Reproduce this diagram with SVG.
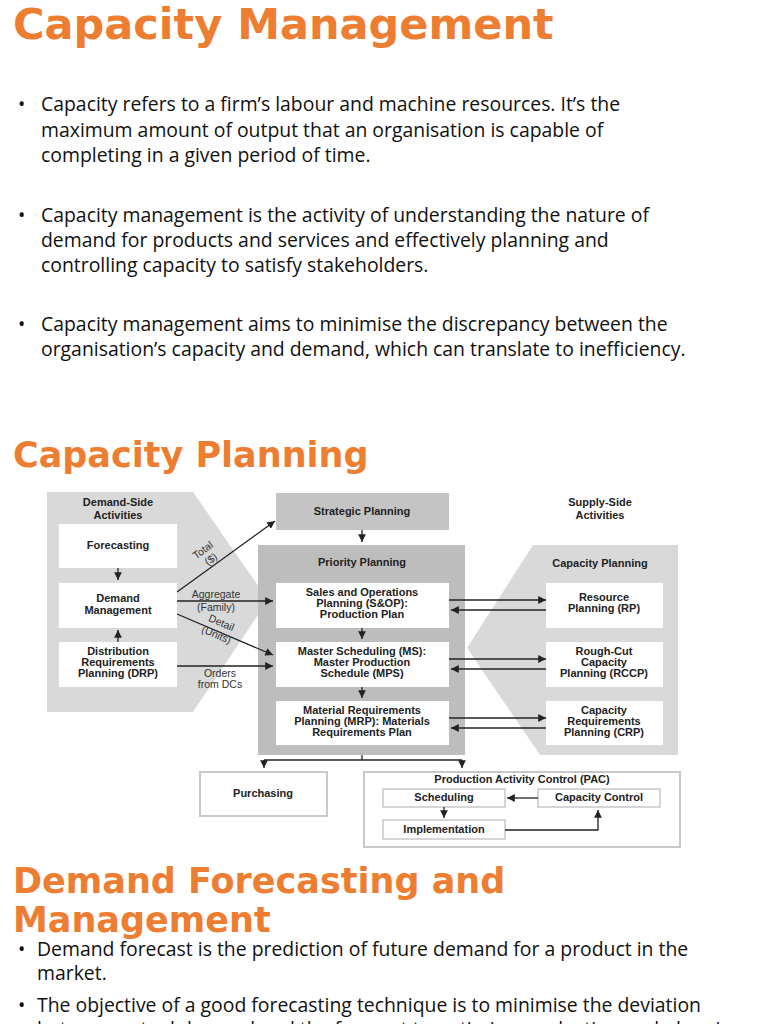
<svg xmlns="http://www.w3.org/2000/svg" width="768" height="1024" viewBox="0 0 768 1024">
<style>
.h{font-family:"DejaVu Sans",sans-serif;font-weight:bold;fill:#ED7D31}
.b{font-family:"Open Sans","Noto Sans",sans-serif;font-size:19.4px;fill:#111}
.t{font-family:"Liberation Sans",Arial,sans-serif;font-weight:bold;font-size:11px;fill:#222;text-anchor:middle}
.n{font-family:"Liberation Sans",Arial,sans-serif;font-size:10.5px;fill:#333;text-anchor:middle}
.box{fill:#fff}
.ln{stroke:#222;stroke-width:1.3;fill:none}
</style>
<defs><marker id="a" viewBox="0 0 6 6" refX="6" refY="3" markerWidth="6" markerHeight="6" orient="auto"><path d="M0,0L6,3L0,6z" fill="#222"/></marker></defs>
<rect width="768" height="1024" fill="#fff"/>
<text class="h" x="13" y="39" font-size="43">Capacity Management</text>
<g class="b">
<text x="18" y="111">•</text><text x="41" y="111">Capacity refers to a firm’s labour and machine resources. It’s the</text>
<text x="41" y="137">maximum amount of output that an organisation is capable of</text>
<text x="41" y="162">completing in a given period of time.</text>
<text x="18" y="222">•</text><text x="41" y="222">Capacity management is the activity of understanding the nature of</text>
<text x="41" y="247">demand for products and services and effectively planning and</text>
<text x="41" y="272">controlling capacity to satisfy stakeholders.</text>
<text x="18" y="331">•</text><text x="41" y="331">Capacity management aims to minimise the discrepancy between the</text>
<text x="41" y="356">organisation’s capacity and demand, which can translate to inefficiency.</text>
</g>
<text class="h" x="13" y="467" font-size="35">Capacity Planning</text>

<g id="demand-side"><path d="M47,492H193L268,600L193,712H47Z" fill="#d9d9d9"/>
<text class="t" x="118" y="506">Demand-Side</text><text class="t" x="118" y="519">Activities</text></g>
<g id="supply-side"><path d="M533,545H678V755H540L467,648Z" fill="#d9d9d9"/>
<text class="t" x="600" y="506">Supply-Side</text><text class="t" x="600" y="519">Activities</text>
<text class="t" x="600" y="567" font-size="12">Capacity Planning</text></g>
<g id="strategic"><rect x="276" y="493" width="173" height="37" fill="#c4c4c4"/><text class="t" x="362" y="515">Strategic Planning</text></g>
<g id="priority"><rect x="258" y="545" width="207" height="210" fill="#bdbdbd"/><text class="t" x="362" y="566" font-size="12">Priority Planning</text></g>
<g id="forecasting"><rect class="box" x="59" y="524" width="118" height="44"/><text class="t" x="118" y="549">Forecasting</text></g>
<g id="demand"><rect class="box" x="59" y="583" width="118" height="45"/><text class="t" x="118" y="602">Demand</text><text class="t" x="118" y="614">Management</text></g>
<g id="drp"><rect class="box" x="59" y="642" width="118" height="45"/><text class="t" x="118" y="655">Distribution</text><text class="t" x="118" y="666">Requirements</text><text class="t" x="118" y="677">Planning (DRP)</text></g>
<g id="sop"><rect class="box" x="276" y="583" width="173" height="45"/><text class="t" x="362" y="596">Sales and Operations</text><text class="t" x="362" y="607">Planning (S&amp;OP):</text><text class="t" x="362" y="618">Production Plan</text></g>
<g id="ms"><rect class="box" x="276" y="642" width="173" height="45"/><text class="t" x="362" y="655">Master Scheduling (MS):</text><text class="t" x="362" y="666">Master Production</text><text class="t" x="362" y="677">Schedule (MPS)</text></g>
<g id="mrp"><rect class="box" x="276" y="701" width="173" height="44"/><text class="t" x="362" y="714">Material Requirements</text><text class="t" x="362" y="725">Planning (MRP): Materials</text><text class="t" x="362" y="736">Requirements Plan</text></g>
<g id="rp"><rect class="box" x="546" y="583" width="117" height="45"/><text class="t" x="604" y="601">Resource</text><text class="t" x="604" y="612">Planning (RP)</text></g>
<g id="rccp"><rect class="box" x="546" y="642" width="117" height="45"/><text class="t" x="604" y="655">Rough-Cut</text><text class="t" x="604" y="666">Capacity</text><text class="t" x="604" y="677">Planning (RCCP)</text></g>
<g id="crp"><rect class="box" x="546" y="701" width="117" height="44"/><text class="t" x="604" y="714">Capacity</text><text class="t" x="604" y="725">Requirements</text><text class="t" x="604" y="736">Planning (CRP)</text></g>
<g id="purchasing"><rect x="200" y="772" width="127" height="44" fill="#fff" stroke="#c8c8c8" stroke-width="2"/><text class="t" x="263" y="797">Purchasing</text></g>
<g id="pac"><rect x="364" y="772" width="316" height="75" fill="#fff" stroke="#c8c8c8" stroke-width="2"/><text class="t" x="522" y="783">Production Activity Control (PAC)</text></g>
<g id="scheduling"><rect x="383" y="789" width="122" height="18" fill="#fff" stroke="#c8c8c8" stroke-width="1.5"/><text class="t" x="444" y="801">Scheduling</text></g>
<g id="capcontrol"><rect x="538" y="789" width="122" height="18" fill="#fff" stroke="#c8c8c8" stroke-width="1.5"/><text class="t" x="599" y="801">Capacity Control</text></g>
<g id="implementation"><rect x="383" y="820" width="122" height="19" fill="#fff" stroke="#c8c8c8" stroke-width="1.5"/><text class="t" x="444" y="833">Implementation</text></g>

<g id="connectors" class="ln">
<path d="M118,568V580" marker-end="url(#a)"/>
<path d="M118,642V630" marker-end="url(#a)"/>
<path d="M177,592L275,521" marker-end="url(#a)"/>
<path d="M177,601H273" marker-end="url(#a)"/>
<path d="M177,614L273,655" marker-end="url(#a)"/>
<path d="M177,666H273" marker-end="url(#a)"/>
<path d="M362,530V542" marker-end="url(#a)"/>
<path d="M362,628V639" marker-end="url(#a)"/>
<path d="M362,687V698" marker-end="url(#a)"/>
<path d="M449,600H546" marker-end="url(#a)"/>
<path d="M546,610H451" marker-end="url(#a)"/>
<path d="M449,659H546" marker-end="url(#a)"/>
<path d="M546,669H451" marker-end="url(#a)"/>
<path d="M449,718H546" marker-end="url(#a)"/>
<path d="M546,728H451" marker-end="url(#a)"/>
<path d="M362,755V760"/>
<path d="M264,760H462"/>
<path d="M264,760V768" marker-end="url(#a)"/>
<path d="M462,760V768" marker-end="url(#a)"/>
<path d="M538,798H507" marker-end="url(#a)"/>
<path d="M444,807V818" marker-end="url(#a)"/>
<path d="M505,830H598V810" marker-end="url(#a)"/>
</g>
<g class="n">
<text transform="translate(205,553) rotate(-36)">Total</text>
<text transform="translate(213,562) rotate(-36)">($)</text>
<text x="216" y="598">Aggregate</text><text x="216" y="611">(Family)</text>
<text transform="translate(220,626) rotate(23)">Detail</text>
<text transform="translate(215,638) rotate(23)">(Units)</text>
<text x="220" y="677">Orders</text><text x="220" y="688">from DCs</text>
</g>

<text class="h" x="13" y="893" font-size="35">Demand Forecasting and</text>
<text class="h" x="13" y="932" font-size="35">Management</text>
<g class="b">
<text x="18" y="956">•</text><text x="37" y="956">Demand forecast is the prediction of future demand for a product in the</text>
<text x="37" y="980">market.</text>
<text x="18" y="1012">•</text><text x="37" y="1012">The objective of a good forecasting technique is to minimise the deviation</text>
<text x="37" y="1036">between actual demand and the forecast to optimise production and planning.</text>
</g>
</svg>
